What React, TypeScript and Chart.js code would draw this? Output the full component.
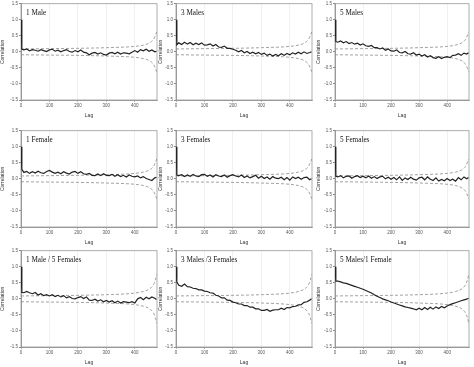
import React, { useEffect, useRef } from "react";
import { Chart, registerables } from "chart.js";
Chart.register(...registerables);

const lags = [0, 3, 10, 20, 30, 40, 50, 60, 70, 80, 90, 100, 110, 120, 130, 140, 150, 160, 170, 180, 190, 200, 210, 220, 230, 240, 250, 260, 270, 280, 290, 300, 310, 320, 330, 340, 350, 360, 370, 380, 390, 400, 410, 420, 430, 440, 450, 460, 470, 476];

const titles = ["1 Male", "3 Males", "5 Males", "1 Female", "3 Females", "5 Females", "1 Male / 5 Females", "3 Males /3 Females", "5 Males/1 Female"];

const male1 = [1.0, 0.08, 0.06, 0.09, 0.03, 0.07, 0.05, 0.02, 0.07, 0.04, 0.01, 0.06, 0.08, 0.02, 0.05, 0.0, 0.04, 0.07, 0.01, -0.01, 0.04, 0.0, 0.06, -0.01, -0.03, -0.09, -0.04, -0.02, -0.07, -0.03, -0.08, -0.1, -0.04, -0.02, -0.06, -0.01, -0.07, -0.03, -0.04, -0.06, -0.01, 0.04, -0.01, 0.07, 0.03, 0.08, 0.02, 0.06, 0.0, 0.02];
const males3 = [1.0, 0.22, 0.28, 0.23, 0.3, 0.24, 0.29, 0.22, 0.27, 0.23, 0.28, 0.21, 0.22, 0.25, 0.18, 0.23, 0.15, 0.14, 0.18, 0.11, 0.11, 0.08, 0.05, 0.0, 0.04, -0.03, 0.01, -0.05, -0.01, -0.06, -0.02, -0.08, -0.04, -0.11, -0.07, -0.13, -0.08, -0.12, -0.06, -0.11, -0.05, -0.09, -0.03, -0.07, -0.01, -0.06, 0.0, -0.05, -0.02, 0.0];
const males5 = [1.0, 0.32, 0.3, 0.34, 0.28, 0.32, 0.26, 0.29, 0.24, 0.27, 0.21, 0.25, 0.19, 0.17, 0.2, 0.13, 0.13, 0.09, 0.12, 0.05, 0.09, 0.03, 0.02, 0.06, -0.02, -0.03, 0.01, -0.06, -0.07, -0.03, -0.1, -0.07, -0.13, -0.09, -0.16, -0.12, -0.18, -0.2, -0.15, -0.21, -0.17, -0.15, -0.18, -0.11, -0.1, -0.06, -0.11, -0.04, -0.07, -0.03];
const female1 = [1.0, 0.3, 0.2, 0.23, 0.17, 0.22, 0.18, 0.24, 0.19, 0.17, 0.23, 0.26, 0.21, 0.17, 0.21, 0.16, 0.22, 0.18, 0.15, 0.21, 0.23, 0.17, 0.22, 0.16, 0.14, 0.17, 0.11, 0.1, 0.15, 0.1, 0.16, 0.11, 0.1, 0.14, 0.08, 0.13, 0.07, 0.11, 0.06, 0.12, 0.08, 0.06, 0.09, 0.03, 0.07, 0.01, -0.02, -0.05, 0.03, 0.05];
const females3 = [1.0, 0.12, 0.1, 0.13, 0.07, 0.12, 0.08, 0.14, 0.09, 0.07, 0.13, 0.14, 0.08, 0.12, 0.06, 0.13, 0.09, 0.07, 0.12, 0.05, 0.1, 0.13, 0.09, 0.06, 0.12, 0.04, 0.09, 0.03, 0.07, 0.11, 0.02, 0.08, 0.01, 0.06, -0.01, 0.07, 0.02, 0.01, 0.05, -0.03, 0.04, -0.04, 0.06, 0.01, 0.05, -0.01, 0.04, 0.05, -0.03, 0.0];
const females5 = [1.0, 0.08, 0.06, 0.1, 0.03, 0.08, 0.09, 0.02, 0.07, 0.1, 0.04, 0.08, 0.03, 0.09, 0.02, 0.07, 0.01, 0.06, 0.08, 0.0, 0.05, -0.01, 0.04, -0.03, 0.06, -0.05, 0.03, -0.02, 0.05, -0.01, -0.04, 0.03, 0.05, -0.03, 0.06, -0.01, -0.05, 0.03, -0.07, -0.02, -0.06, 0.01, -0.05, -0.01, -0.07, 0.04, -0.03, 0.06, 0.0, 0.04];
const male1females5 = [1.0, 0.2, 0.19, 0.23, 0.19, 0.16, 0.2, 0.12, 0.16, 0.1, 0.13, 0.09, 0.13, 0.07, 0.11, 0.06, 0.1, 0.03, 0.07, 0.01, 0.0, 0.04, 0.07, 0.01, 0.06, -0.04, -0.05, -0.01, -0.07, -0.03, -0.09, -0.05, -0.1, -0.06, -0.12, -0.07, -0.13, -0.09, -0.1, -0.12, -0.09, -0.13, 0.0, 0.04, -0.03, 0.05, 0.0, 0.06, 0.02, -0.02];
const males3females3 = [1.0, 0.52, 0.42, 0.39, 0.46, 0.38, 0.37, 0.33, 0.32, 0.28, 0.28, 0.24, 0.23, 0.19, 0.18, 0.11, 0.09, 0.03, 0.03, -0.04, -0.05, -0.1, -0.12, -0.16, -0.16, -0.21, -0.21, -0.26, -0.26, -0.31, -0.31, -0.36, -0.36, -0.33, -0.39, -0.35, -0.34, -0.34, -0.29, -0.33, -0.27, -0.28, -0.24, -0.23, -0.19, -0.18, -0.11, -0.09, -0.04, 0.0];
const males5female1 = [1.0, 0.55, 0.55, 0.53, 0.5, 0.48, 0.45, 0.42, 0.39, 0.36, 0.33, 0.3, 0.26, 0.22, 0.18, 0.13, 0.08, 0.04, 0.0, -0.03, -0.06, -0.1, -0.13, -0.16, -0.19, -0.22, -0.25, -0.27, -0.29, -0.31, -0.34, -0.29, -0.34, -0.27, -0.33, -0.26, -0.32, -0.25, -0.3, -0.24, -0.28, -0.22, -0.18, -0.15, -0.12, -0.09, -0.06, -0.03, -0.01, 0.02];

const seriesList = [male1, males3, males5, female1, females3, females5, male1females5, males3females3, males5female1];

const bandLags = [0, 100, 200, 300, 400, 430, 450, 465, 472, 477];
const bandUpperA = [0.09, 0.1, 0.11, 0.13, 0.17, 0.21, 0.27, 0.38, 0.5, 0.62];
const bandLowerA = [-0.09, -0.1, -0.11, -0.13, -0.17, -0.21, -0.27, -0.38, -0.5, -0.62];
const bandUpperB = [0.09, 0.1, 0.11, 0.13, 0.18, 0.23, 0.3, 0.43, 0.58, 0.76];
const bandLowerB = [-0.09, -0.1, -0.11, -0.13, -0.18, -0.23, -0.3, -0.43, -0.58, -0.76];

const yTicks = [-1.5, -1.0, -0.5, 0.0, 0.5, 1.0, 1.5];

const colX = [0, 158, 316];
const rowY = [0, 127, 247];
const leftW = [21, 18, 19];
const rightPad = [1, 4, 5];

function Panel({ idx }: { idx: number }) {
  const ref = useRef<HTMLCanvasElement>(null);
  useEffect(() => {
    const col = idx % 3;
    const row = Math.floor(idx / 3);
    const values = seriesList[idx];
    const up = row === 2 ? bandUpperB : bandUpperA;
    const lo = row === 2 ? bandLowerB : bandLowerA;
    const title = titles[idx];
    const framePlugin = {
      id: "frame",
      beforeDatasetsDraw(chart: any) {
        const { ctx, chartArea } = chart;
        ctx.save();
        ctx.strokeStyle = "#9a9a9a";
        ctx.lineWidth = 0.8;
        ctx.strokeRect(chartArea.left, chartArea.top, chartArea.right - chartArea.left, chartArea.bottom - chartArea.top);
        ctx.restore();
      },
    };
    const titlePlugin = {
      id: "panelTitle",
      afterDatasetsDraw(chart: any) {
        const { ctx, chartArea } = chart;
        ctx.save();
        ctx.font = '9px "Liberation Serif"';
        ctx.fillStyle = "#111";
        ctx.textBaseline = "middle";
        ctx.translate(chartArea.left + 5, chartArea.top + 9);
        ctx.scale(0.8, 1);
        ctx.fillText(title, 0, 0);
        ctx.restore();
      },
    };
    const chart = new Chart(ref.current!, {
      type: "line",
      data: {
        datasets: [
          {
            data: lags.map((x, i) => ({ x, y: values[i] })),
            borderColor: "#222",
            borderWidth: 1.2,
            pointRadius: 0,
            tension: 0,
          },
          {
            data: bandLags.map((x, i) => ({ x, y: up[i] })),
            borderColor: "#8a8a8a",
            borderWidth: 0.8,
            borderDash: [3, 2],
            pointRadius: 0,
            cubicInterpolationMode: "monotone",
          },
          {
            data: bandLags.map((x, i) => ({ x, y: lo[i] })),
            borderColor: "#8a8a8a",
            borderWidth: 0.8,
            borderDash: [3, 2],
            pointRadius: 0,
            cubicInterpolationMode: "monotone",
          },
        ],
      },
      options: {
        animation: false,
        responsive: false,
        layout: { padding: { top: 3, right: rightPad[col], left: 0, bottom: 0 } },
        plugins: { legend: { display: false }, tooltip: { enabled: false } },
        scales: {
          x: {
            type: "linear",
            min: 0,
            max: 478,
            ticks: { stepSize: 100, includeBounds: false, font: { size: 4.5, family: "Arial, 'Liberation Sans'" }, color: "#555", padding: 1, maxRotation: 0 },
            grid: { color: "#e6e6e6", lineWidth: 0.6, tickLength: 2, tickColor: "#888" },
            border: { color: "#9a9a9a" },
            title: { display: true, text: "Lag", font: { size: 5, family: "Arial, 'Liberation Sans'" }, color: "#333", padding: { top: 1, bottom: 1 } },
            afterFit: (s: any) => { s.height = 20; },
          },
          y: {
            type: "linear",
            min: -1.5,
            max: 1.5,
            afterBuildTicks: (s: any) => { s.ticks = yTicks.map((v) => ({ value: v })); },
            ticks: { callback: (v: any) => Number(v).toFixed(1), font: { size: 4.5, family: "Arial, 'Liberation Sans'" }, color: "#555", padding: 1 },
            grid: { drawOnChartArea: false, tickLength: 2, tickColor: "#888" },
            border: { color: "#9a9a9a" },
            title: { display: true, text: "Correlation", font: { size: 5, family: "Arial, 'Liberation Sans'" }, color: "#333", padding: 0 },
            afterFit: (s: any) => { s.width = leftW[col]; },
          },
        },
      },
      plugins: [framePlugin, titlePlugin],
    } as any);
    return () => chart.destroy();
  }, [idx]);
  const col = idx % 3;
  const row = Math.floor(idx / 3);
  return (
    <canvas
      ref={ref}
      width={158}
      height={120}
      style={{ position: "absolute", left: colX[col], top: rowY[row], width: 158, height: 120 }}
    />
  );
}

export default function App() {
  return (
    <div style={{ position: "fixed", left: 0, top: 0, width: 474, height: 367, background: "#fff" }}>
      {titles.map((_, i) => (
        <Panel key={i} idx={i} />
      ))}
    </div>
  );
}
